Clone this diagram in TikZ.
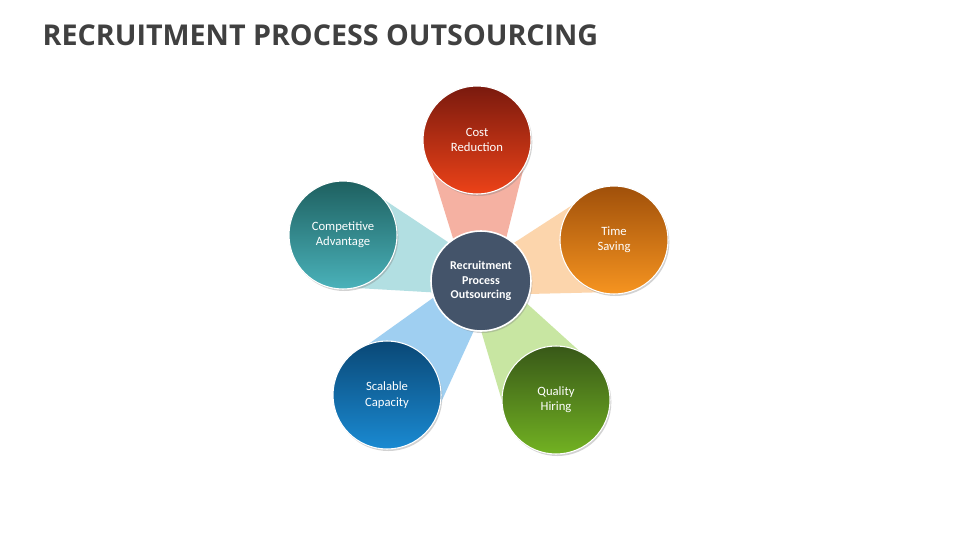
\documentclass[tikz,border=0pt]{standalone}
\usepackage{fontspec}
\setmainfont{Carlito}
\newfontfamily\titlefont{Open Sans}
\usetikzlibrary{calc,shadows}
\definecolor{titlegray}{HTML}{404040}
\begin{document}
\begin{tikzpicture}[x=0.75pt,y=-0.75pt,
  bubble/.style={circle,minimum size=81pt,inner sep=0pt,draw=white,line width=0.8pt,
    text=white,font=\fontsize{9.5}{11.5}\selectfont,align=center,
    drop shadow={shadow xshift=1pt,shadow yshift=-1.5pt,opacity=0.35}},
  hub/.style={circle,minimum size=75pt,inner sep=0pt,draw=white,line width=1.2pt,fill=hubc,
    text=white,font=\bfseries\fontsize{9}{11}\selectfont,align=center,
    drop shadow={shadow xshift=1pt,shadow yshift=-1.5pt,opacity=0.35}}]
\definecolor{hubc}{HTML}{44546A}
\fill[white] (0,0) rectangle (960,540);
\node[anchor=west,text=titlegray,font=\titlefont\bfseries\fontsize{21.5}{24}\selectfont] (title) at (38,35) {RECRUITMENT PROCESS OUTSOURCING};
\coordinate (c) at (481,281);
\coordinate (o1) at (477,140);
\coordinate (o2) at (614,240);
\coordinate (o3) at (556,400);
\coordinate (o4) at (387,395);
\coordinate (o5) at (343,235);
\foreach \o/\col in {o1/F5B1A2,o2/FCD5AC,o3/C8E6A2,o4/9FCFF1,o5/B2DFE2}{
  \definecolor{wc}{HTML}{\col}
  \fill[wc] ($(c)!11pt!90:(\o)$) -- ($(\o)!40.5pt!-90:(c)$) -- ($(\o)!40.5pt!90:(c)$) -- ($(c)!11pt!-90:(\o)$) -- cycle;
}
\node[bubble,top color={rgb,255:red,122;green,26;blue,14},bottom color={rgb,255:red,236;green,66;blue,24}] (cost) at (o1) {Cost\\Reduction};
\node[bubble,top color={rgb,255:red,160;green,80;blue,10},bottom color={rgb,255:red,246;green,148;blue,32}] (time) at (o2) {Time\\Saving};
\node[bubble,top color={rgb,255:red,56;green,88;blue,24},bottom color={rgb,255:red,114;green,178;blue,34}] (qual) at (o3) {Quality\\Hiring};
\node[bubble,top color={rgb,255:red,10;green,72;blue,118},bottom color={rgb,255:red,26;green,138;blue,210}] (scal) at (o4) {Scalable\\Capacity};
\node[bubble,top color={rgb,255:red,30;green,96;blue,96},bottom color={rgb,255:red,74;green,178;blue,186}] (comp) at (o5) {Competitive\\Advantage};
\node[hub] (hubn) at (c) {Recruitment\\Process\\Outsourcing};
\end{tikzpicture}
\end{document}
